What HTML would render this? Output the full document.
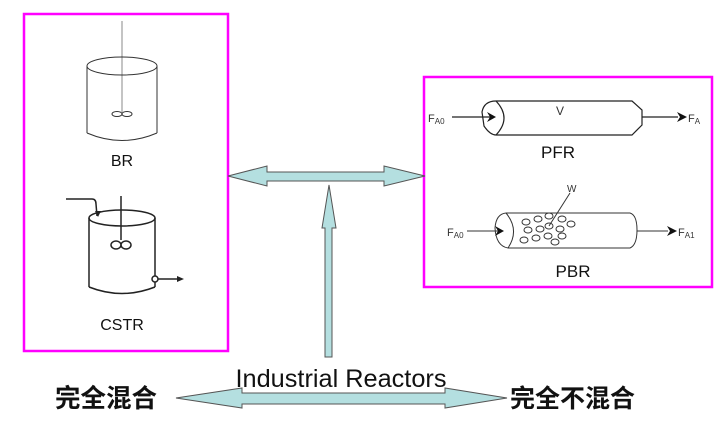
<!DOCTYPE html>
<html><head><meta charset="utf-8"><style>
body{margin:0;background:#fff;}
svg{display:block;}
text{font-family:"Liberation Sans","Noto Sans CJK SC",sans-serif;}
</style></head><body>
<svg width="720" height="424" viewBox="0 0 720 424" xmlns="http://www.w3.org/2000/svg">
<rect x="24" y="14" width="204" height="337" fill="none" stroke="#ff00ff" stroke-width="2.5"/>
<rect x="424" y="77" width="288" height="210" fill="none" stroke="#ff00ff" stroke-width="2.5"/>

<!-- BR -->
<g fill="none" stroke="#333" stroke-width="1">
<line x1="122" y1="21" x2="122" y2="112" stroke="#888"/>
<ellipse cx="122" cy="66" rx="35" ry="9"/>
<line x1="87" y1="66" x2="87" y2="133"/>
<line x1="157" y1="66" x2="157" y2="133"/>
<path d="M87 133 Q122 148 157 133"/>
<ellipse cx="117" cy="114" rx="5" ry="2.5"/>
<ellipse cx="127" cy="114" rx="5" ry="2.5"/>
</g>
<text x="122" y="166" font-size="16" text-anchor="middle" fill="#111">BR</text>

<!-- CSTR -->
<g fill="none" stroke="#222" stroke-width="1.5">
<path d="M66 199 L92 199 Q96 199 96 204 L97 216"/>
<ellipse cx="122" cy="218" rx="33" ry="8"/>
<line x1="89" y1="218" x2="89" y2="287"/>
<line x1="155" y1="218" x2="155" y2="287"/>
<path d="M89 287 Q122 300 155 287"/>
<line x1="121" y1="196" x2="121" y2="240"/>
<ellipse cx="116" cy="245" rx="5" ry="4"/>
<ellipse cx="126" cy="245" rx="5" ry="4"/>
<circle cx="155" cy="279" r="3" fill="#fff"/>
<line x1="158" y1="279" x2="180" y2="279"/>
</g>
<polygon points="98,217 95,211 101,211" fill="#222"/>
<polygon points="184,279 177,276 177,282" fill="#222"/>
<text x="122" y="330" font-size="16" text-anchor="middle" fill="#111">CSTR</text>

<!-- PFR -->
<g fill="none" stroke="#222" stroke-width="1.2">
<path d="M496 101 L632 101 L642 110 L642 125 L632 135 L496 135"/>
<path d="M496 101 Q484 101 482 112 L484 126 Q490 135 496 135"/>
<path d="M496 101 Q512 118 496 135"/>
<line x1="452" y1="117" x2="492" y2="117"/>
<line x1="642" y1="117" x2="678" y2="117"/>
</g>
<polygon points="496,117 487,112 490,117 487,122" fill="#111"/>
<polygon points="687,117 677,112 680,117 677,122" fill="#111"/>
<text x="428" y="122" font-size="11" fill="#333">F<tspan font-size="8" dy="2">A0</tspan></text>
<text x="688" y="122" font-size="11" fill="#333">F<tspan font-size="8" dy="2">A</tspan></text>
<text x="556" y="115" font-size="12" font-family="Liberation Serif" fill="#333">V</text>
<text x="558" y="158" font-size="17" text-anchor="middle" fill="#111">PFR</text>

<!-- PBR -->
<g fill="none" stroke="#333" stroke-width="1">
<path d="M506 213 L630 213 Q637 215 637 230 Q637 245 630 248 L508 248"/>
<path d="M506 213 Q496 214 495 228 Q496 246 508 248"/>
<path d="M506 213 Q520 230 508 248"/>
<line x1="467" y1="231" x2="500" y2="231"/>
<line x1="637" y1="231" x2="668" y2="231"/>
<line x1="570" y1="193" x2="549" y2="226"/>
<ellipse cx="526" cy="222" rx="4" ry="3"/><ellipse cx="538" cy="219" rx="4" ry="3"/><ellipse cx="549" cy="216" rx="4" ry="3"/><ellipse cx="562" cy="219" rx="4" ry="3"/>
<ellipse cx="528" cy="230" rx="4" ry="3"/><ellipse cx="540" cy="229" rx="4" ry="3"/><ellipse cx="549" cy="226" rx="4" ry="3"/><ellipse cx="560" cy="229" rx="4" ry="3"/><ellipse cx="571" cy="224" rx="4" ry="3"/>
<ellipse cx="524" cy="240" rx="4" ry="3"/><ellipse cx="536" cy="238" rx="4" ry="3"/><ellipse cx="548" cy="236" rx="4" ry="3"/><ellipse cx="562" cy="236" rx="4" ry="3"/><ellipse cx="555" cy="242" rx="4" ry="3"/>
</g>
<polygon points="504,231 495,226 498,231 495,236" fill="#111"/>
<polygon points="677,231 667,226 670,231 667,236" fill="#111"/>
<text x="447" y="236" font-size="11" fill="#333">F<tspan font-size="8" dy="2">A0</tspan></text>
<text x="678" y="236" font-size="11" fill="#333">F<tspan font-size="8" dy="2">A1</tspan></text>
<text x="567" y="192" font-size="10" fill="#333">W</text>
<text x="573" y="277" font-size="17" text-anchor="middle" fill="#111">PBR</text>

<!-- arrows -->
<g fill="#b4dfe0" stroke="#555" stroke-width="1">
<polygon points="228,176 267,166 267,172 384,172 384,166 425,176 384,186 384,181 267,181 267,186"/>
<polygon points="329,185 336,228 332,228 332,357 325,357 325,228 322,228"/>
<polygon points="176,398 242,388 242,393 445,393 445,388 507,398 445,408 445,404 242,404 242,408"/>
</g>

<text x="341" y="387" font-size="25" text-anchor="middle" fill="#111" textLength="211" lengthAdjust="spacingAndGlyphs">Industrial Reactors</text>
<text x="55" y="407" font-size="25.5" font-weight="bold" fill="#111" font-family="'Noto Sans CJK SC',sans-serif">完全混合</text>
<text x="510" y="407" font-size="25" font-weight="bold" fill="#111" font-family="'Noto Sans CJK SC',sans-serif">完全不混合</text>
</svg>
</body></html>
